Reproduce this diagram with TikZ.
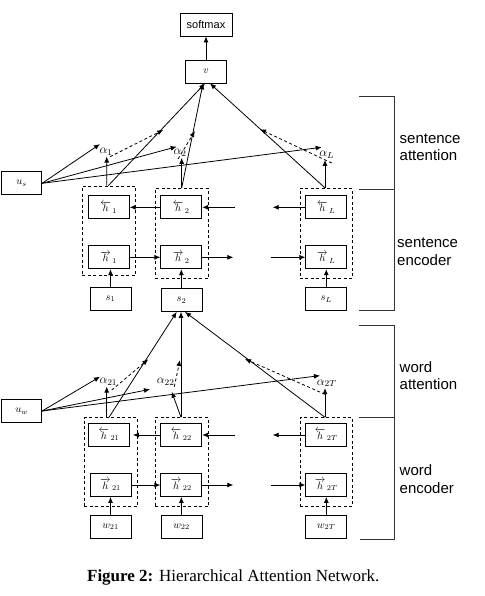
\documentclass[tikz,border=0pt]{standalone}
\usepackage{fontspec}
\usepackage{fix-cm}
\setsansfont{Liberation Sans}
\newfontfamily\capfont{Liberation Serif}
\usetikzlibrary{arrows.meta,calc}
\begin{document}
\begin{tikzpicture}[x=1pt,y=-1pt,
  box/.style={draw,line width=0.8pt,minimum width=41pt,minimum height=23pt,inner sep=0pt,font=\fontsize{10.5}{12}\selectfont},
  dbox/.style={draw,dashed,line width=0.8pt,inner sep=0pt,dash pattern=on 3pt off 2.5pt},
  alab/.style={inner sep=1pt,font=\fontsize{12.5}{14}\selectfont},
  arr/.style={line width=0.8pt,-{Latex[length=6pt,width=5pt]}},
  darr/.style={line width=0.8pt,dashed,dash pattern=on 3pt off 2.5pt,-{Latex[length=6pt,width=5pt]}},
  brk/.style={line width=1pt,black!80},
  side/.style={anchor=west,align=left,inner sep=0pt,font=\sffamily\fontsize{15}{17.5}\selectfont}]
\useasboundingbox (0,0) rectangle (484,596);
% top
\node[box,minimum width=52pt,font=\sffamily\fontsize{11}{12}\selectfont] (sm) at (206,24.5) {softmax};
\node[box] (v) at (206,71.5) {$v$};
\draw[arr] (v.north) -- (sm.south);
% sentence level
\node[box,minimum width=40pt] (us) at (21.7,183.3) {$u_s$};
\node[dbox,minimum width=53pt,minimum height=89.7pt] (db1) at (108.8,230.9) {};
\node[dbox,minimum width=53.3pt,minimum height=90pt] (db2) at (181.7,233.3) {};
\node[dbox,minimum width=52.7pt,minimum height=90pt] (dbL) at (326.3,233.3) {};
\node[box] (hb1) at (108.8,207.3) {$\overleftarrow{h}_{\,1}$};
\node[box] (hf1) at (108.8,257.3) {$\overrightarrow{h}_{\,1}$};
\node[box] (s1) at (110.5,298.7) {$s_1$};
\node[box] (hb2) at (181.3,207.3) {$\overleftarrow{h}_{\,2}$};
\node[box] (hf2) at (181.3,257.3) {$\overrightarrow{h}_{\,2}$};
\node[box] (s2) at (181.5,300) {$s_2$};
\node[box] (hbL) at (326.3,207.3) {$\overleftarrow{h}_{\,L}$};
\node[box] (hfL) at (326.3,257.3) {$\overrightarrow{h}_{\,L}$};
\node[box] (sL) at (326.3,299) {$s_L$};
\node[alab] (a1) at (106,151.7) {$\alpha_1$};
\node[alab] (a2) at (180,153) {$\alpha_2$};
\node[alab] (aL) at (326.7,155) {$\alpha_L$};
\coordinate (sbR) at (235,207.3);
\coordinate (sbL) at (272.7,207.3);
\coordinate (sfR) at (233.3,257.3);
\coordinate (sfL) at (270.7,257.3);
\draw[arr] (hb2.west) -- (hb1.east);
\draw[arr] (sbR) -- (hb2.east);
\draw[arr] (hbL.west) -- (sbL);
\draw[arr] (hf1.east) -- (hf2.west);
\draw[arr] (hf2.east) -- (sfR);
\draw[arr] (sfL) -- (hfL.west);
\draw[arr] (s1.north) -- (s1.north |- hf1.south);
\draw[arr] (s2.north) -- (hf2.south);
\draw[arr] (sL.north) -- (hfL.south);
\draw[arr] ([xshift=-2pt]db1.north) -- ([xshift=0.7pt]a1.south);
\draw[arr] ([xshift=0pt]db2.north) -- ([xshift=1.7pt]a2.south);
\draw[arr] ([xshift=-1.3pt]dbL.north) -- ([xshift=-1.7pt]aL.south);
\draw[arr] ([xshift=-0.5pt]db1.north) -- ([xshift=-1pt]v.south);
\draw[arr] ([xshift=0pt]db2.north) -- ([xshift=-3pt]v.south);
\draw[arr] ([xshift=-1.3pt]dbL.north) -- ([xshift=4pt]v.south);
\coordinate (d1) at (163.3,130);
\coordinate (d2) at (195,131);
\coordinate (dL) at (260,129.3);
\draw[darr] ([shift={(4pt,-5pt)}]a1.center) -- (d1);
\draw[darr] ([shift={(-2pt,-6pt)}]a2.center) -- (d2);
\draw[darr] ([shift={(5pt,-8pt)}]aL.center) -- (dL);
\draw[arr] (us.east) -- ([shift={(-6pt,7.6pt)}]a1.center);
\draw[arr] (us.east) -- ([shift={(-3.3pt,6.3pt)}]a2.center);
\draw[arr] (us.east) -- ([shift={(-5pt,7.7pt)}]aL.center);
% word level
\node[box,minimum width=40pt] (uw) at (21.7,411) {$u_w$};
\node[dbox,minimum width=53pt,minimum height=89pt] (dw1) at (110.8,462.2) {};
\node[dbox,minimum width=53.3pt,minimum height=89pt] (dw2) at (181.7,462.2) {};
\node[dbox,minimum width=52.7pt,minimum height=89pt] (dwT) at (326.3,462.2) {};
\node[box] (hb21) at (109,435) {$\overleftarrow{h}_{\,21}$};
\node[box] (hf21) at (110.5,485) {$\overrightarrow{h}_{\,21}$};
\node[box] (w21) at (110.5,526.7) {$w_{21}$};
\node[box] (hb22) at (181.3,435) {$\overleftarrow{h}_{\,22}$};
\node[box] (hf22) at (181.3,485) {$\overrightarrow{h}_{\,22}$};
\node[box] (w22) at (181.5,526.7) {$w_{22}$};
\node[box] (hb2T) at (326.3,435) {$\overleftarrow{h}_{\,2T}$};
\node[box] (hf2T) at (326.3,485) {$\overrightarrow{h}_{\,2T}$};
\node[box] (w2T) at (326.3,526.7) {$w_{2T}$};
\node[alab] (a21) at (108.3,381.7) {$\alpha_{21}$};
\node[alab] (a22) at (165.7,381.7) {$\alpha_{22}$};
\node[alab] (a2T) at (326.7,383.3) {$\alpha_{2T}$};
\coordinate (wbR) at (235,435);
\coordinate (wbL) at (272.7,435);
\coordinate (wfR) at (233.3,485);
\coordinate (wfL) at (270.7,485);
\draw[arr] (hb22.west) -- ([xshift=3pt]hb21.east);
\draw[arr] (wbR) -- (hb22.east);
\draw[arr] (hb2T.west) -- (wbL);
\draw[arr] (hf21.east) -- (hf22.west);
\draw[arr] (hf22.east) -- (wfR);
\draw[arr] (wfL) -- (hf2T.west);
\draw[arr] (w21.north) -- (hf21.south);
\draw[arr] (w22.north) -- (hf22.south);
\draw[arr] (w2T.north) -- (hf2T.south);
\coordinate (u22) at (171.7,391.7);
\draw[arr] ([xshift=-4.1pt]dw1.north) -- ([xshift=-1.6pt]a21.south);
\draw[arr] ([xshift=-0.7pt]dw2.north) -- (u22);
\draw[arr] ([xshift=-1.3pt]dwT.north) -- ([xshift=-1.7pt]a2T.south);
\draw[arr] ([xshift=-1.8pt]dw1.north) -- ([xshift=-4.8pt]s2.south);
\draw[arr] ([xshift=-0.7pt]dw2.north) -- ([xshift=-0.5pt]s2.south);
\draw[arr] ([xshift=-1.3pt]dwT.north) -- ([xshift=3.5pt]s2.south);
\coordinate (e21) at (148.3,359.3);
\coordinate (e22) at (180,360);
\coordinate (e2T) at (245,359);
\coordinate (f22) at (150,389.3);
\draw[darr] ([shift={(3.4pt,-8.4pt)}]a21.center) -- (e21);
\draw[darr] ([shift={(8.6pt,-5pt)}]a22.center) -- (e22);
\draw[darr] ([shift={(-1.7pt,-11pt)}]a2T.center) -- (e2T);
\draw[arr] (uw.east) -- ([shift={(-8.3pt,5pt)}]a21.center);
\draw[arr] (uw.east) -- (f22);
\draw[arr] (uw.east) -- ([shift={(-6.7pt,7.7pt)}]a2T.center);
% brackets
\draw[brk] (359,97) -- (394,97) -- (394,310.7) -- (359,310.7);
\draw[brk] (359,189) -- (394,189);
\draw[brk] (359,325) -- (394,325) -- (394,539) -- (360,539);
\draw[brk] (359,417.7) -- (394,417.7);
\node[side] (t1) at (399.5,147) {sentence\\attention};
\node[side] (t2) at (397,251.5) {sentence\\encoder};
\node[side] (t3) at (399.5,375.5) {word\\attention};
\node[side] (t4) at (399.5,479) {word\\encoder};
% caption
\node[inner sep=0pt,font=\capfont\fontsize{17}{19}\selectfont] (cap) at (233.3,577.5) {\textbf{Figure 2:} Hierarchical Attention Network.};
\end{tikzpicture}
\end{document}
